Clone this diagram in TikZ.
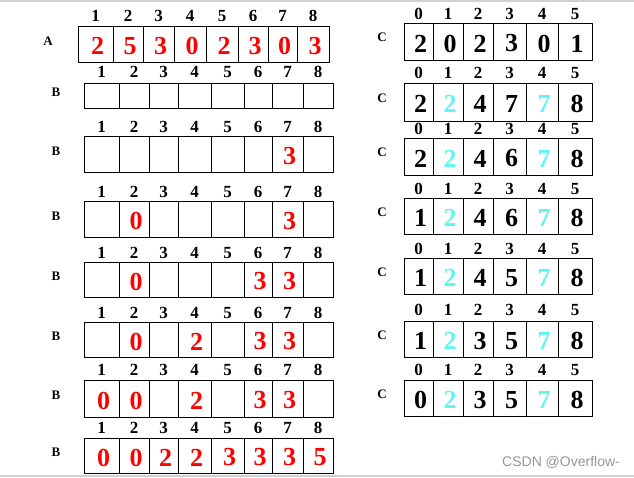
\documentclass[tikz,border=0pt]{standalone}
\usepackage{fontspec}
\setmainfont{Liberation Serif}
\setsansfont{Liberation Sans}
\definecolor{redval}{RGB}{255,0,0}
\definecolor{cyanval}{RGB}{95,245,245}
\definecolor{marktext}{RGB}{150,150,150}

\begin{document}
\begin{tikzpicture}[x=1pt,y=-1pt,
    cell/.style={draw, line width=0.8pt, inner sep=0pt, outer sep=0pt},
    idx/.style={font=\bfseries\fontsize{17}{17}\selectfont, inner sep=0pt},
    tag/.style={font=\bfseries\fontsize{13}{13}\selectfont, inner sep=0pt},
    val/.style={font=\bfseries\fontsize{26}{26}\selectfont, inner sep=0pt, xshift=2pt, yshift=-2pt}]
    \useasboundingbox (0,0) rectangle (634,477);

    %screen edges
    \draw[marktext!45, line width=2pt] (0,1)--(634,1);
    \draw[marktext!45, line width=1.2pt] (0,476)--(634,476);

    %array A
    \node[tag] (atag) at (48,41) {A};
    \foreach \lft/\rgt [count=\col] in {78/113,113/143,143/174,174/206,206/238,238/268,268/297,297/329}{
        \node[cell, minimum width={(\rgt-\lft)*1pt}, minimum height=36pt] (a\col) at ({(\lft+\rgt)/2},44) {};
        \node[idx] (ai\col) at ({(\lft+\rgt)/2},16) {\col};
    }
    \foreach \col/\v in {1/2,2/5,3/3,4/0,5/2,6/3,7/0,8/3}
        \node[val, text=redval] (av\col) at (a\col) {\v};

    %arrays B
    \foreach \top/\bot/\ly [count=\row] in {83/108/72,136/172/127,201/237/192,262/297/253,322/357/313,380/417/370,438/473/428}{
        \node[tag] (btag\row) at (56,{(\top+\bot)/2-3}) {B};
        \foreach \lft/\rgt [count=\col] in {84/119,119/149,149/178,178/211,211/244,244/272,272/303,303/333}{
            \node[cell, minimum width={(\rgt-\lft)*1pt}, minimum height={(\bot-\top)*1pt}] (b\row-\col) at ({(\lft+\rgt)/2},{(\top+\bot)/2}) {};
            \node[idx] (bi\row-\col) at ({(\lft+\rgt)/2},\ly) {\col};
        }
    }
    \foreach \row/\col/\v in {2/7/3, 3/2/0,3/7/3, 4/2/0,4/6/3,4/7/3,
        5/2/0,5/4/2,5/6/3,5/7/3, 6/1/0,6/2/0,6/4/2,6/6/3,6/7/3,
        7/1/0,7/2/0,7/3/2,7/4/2,7/5/3,7/6/3,7/7/3,7/8/5}
        \node[val, text=redval] (bv\row-\col) at (b\row-\col) {\v};

    %arrays C
    \foreach \top/\bot/\ly [count=\row] in {23/60/14,83/121/73,138/175/129,198/234/189,258/294/249,321/357/310,380/416/370}{
        \node[tag] (ctag\row) at (382,{(\top+\bot)/2-4}) {C};
        \foreach \lft/\rgt [count=\col] in {404/433,433/463,463/493,493/526,526/558,558/592}{
            \node[cell, minimum width={(\rgt-\lft)*1pt}, minimum height={(\bot-\top)*1pt}] (c\row-\col) at ({(\lft+\rgt)/2},{(\top+\bot)/2}) {};
            \node[idx] (ci\row-\col) at ({(\lft+\rgt)/2},\ly) {\pgfmathparse{int(\col-1)}\pgfmathresult};
        }
    }
    \foreach \row/\vals in {1/{2,0,2,3,0,1},2/{2,2,4,7,7,8},3/{2,2,4,6,7,8},4/{1,2,4,6,7,8},
        5/{1,2,4,5,7,8},6/{1,2,3,5,7,8},7/{0,2,3,5,7,8}}{
        \foreach \v [count=\col] in \vals{
            \ifnum\row>1 \ifnum\col=2 \def\vcol{cyanval}\else\ifnum\col=5 \def\vcol{cyanval}\else\def\vcol{black}\fi\fi
            \else\def\vcol{black}\fi
            \node[val, text=\vcol] (cv\row-\col) at (c\row-\col) {\v};
        }
    }

    %watermark
    \node[font=\sffamily\fontsize{14}{14}\selectfont, text=marktext, anchor=west, inner sep=0pt] (mark) at (502,462) {CSDN @Overflow-};
\end{tikzpicture}
\end{document}
